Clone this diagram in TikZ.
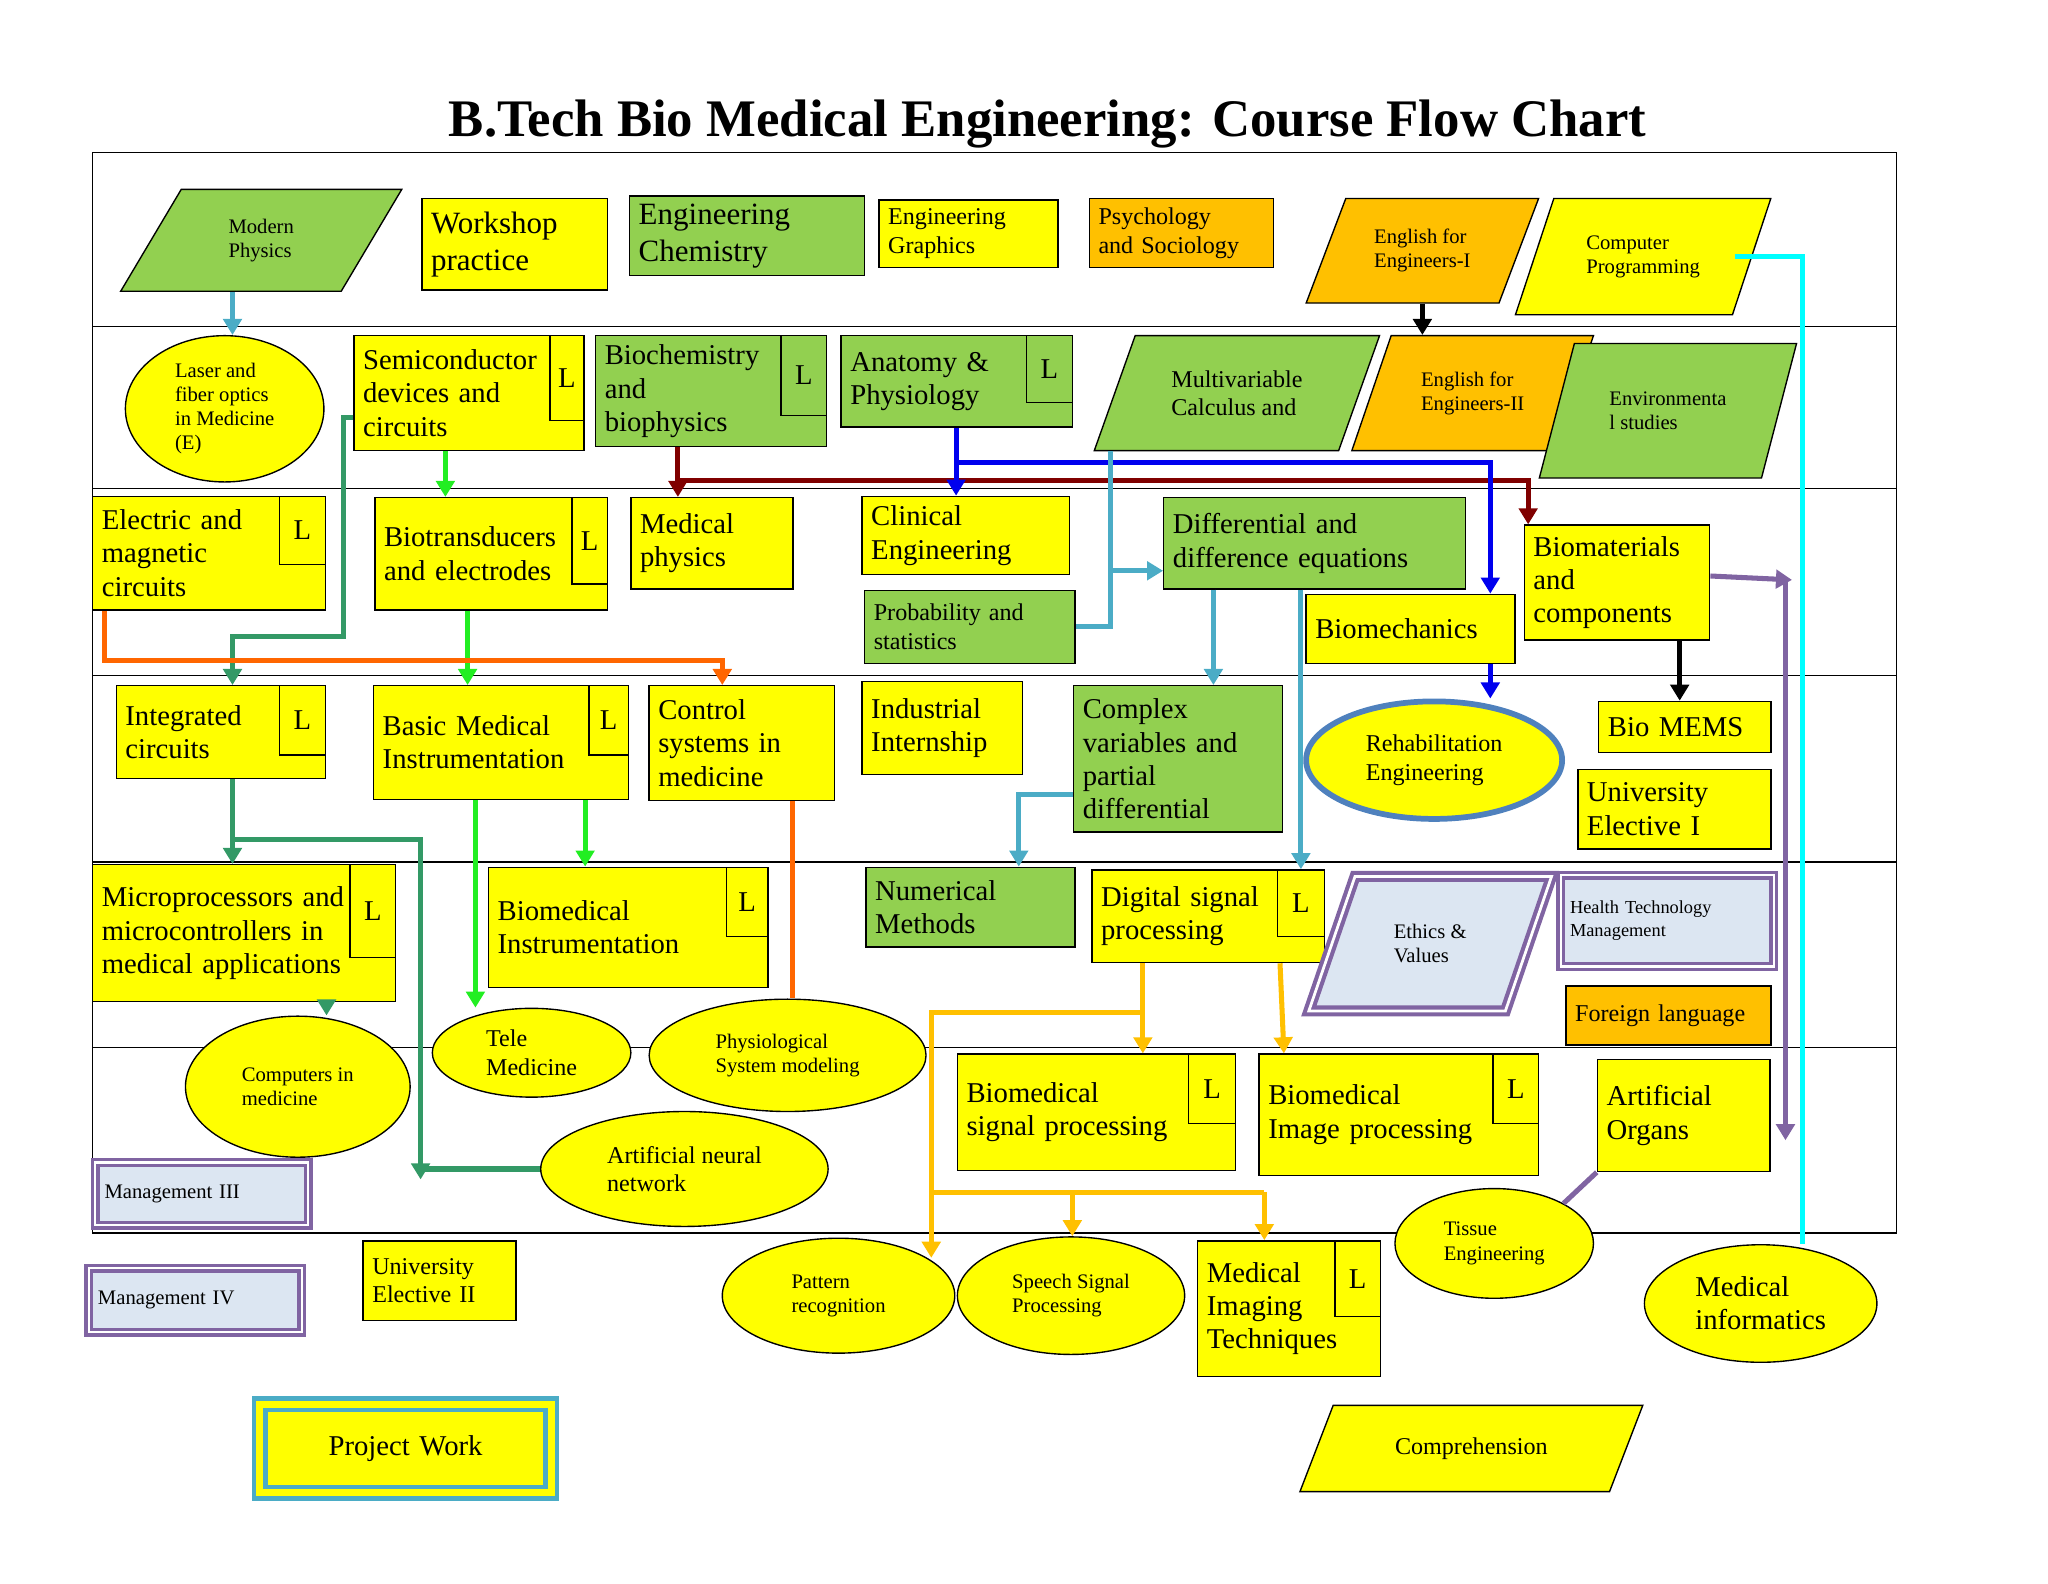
\documentclass[tikz,border=0pt]{standalone}
\usepackage{fontspec}
\setmainfont{Liberation Serif}
\usetikzlibrary{shapes.geometric,arrows.meta}
\definecolor{yel}{HTML}{FFFF00}
\definecolor{grn}{HTML}{92D050}
\definecolor{org}{HTML}{FFC000}
\definecolor{lbl}{HTML}{DCE6F2}
\definecolor{pur}{HTML}{8064A2}
\definecolor{sbl}{HTML}{4BACC6}
\definecolor{dgr}{HTML}{339966}
\definecolor{bgr}{HTML}{22EE22}
\definecolor{orr}{HTML}{FF6600}
\definecolor{drd}{HTML}{800000}
\definecolor{blu}{HTML}{0000EE}
\definecolor{gld}{HTML}{FFC000}
\definecolor{cyn}{HTML}{00FFFF}
\definecolor{rbl}{HTML}{4F81BD}
\newcommand\fW{\fontsize{13.5}{16}\selectfont}
\newcommand\fL{\fontsize{12.5}{14.5}\selectfont}
\newcommand\fM{\fontsize{10.5}{12.5}\selectfont}
\newcommand\fS{\fontsize{9}{10.5}\selectfont}
% boxes given by corners, in pixels of the page
\newcommand\cbox[7]{\node[#6, minimum width={(#4-#2)*0.02cm}, minimum height={(#5-#3)*0.02cm},
  text width={(#4-#2)*0.02cm-8pt}] (#1) at ({(#2+#4)/2},{(#3+#5)/2}) {#7};}
\newcommand\lbox[5]{\node[lb, minimum width={(#4-#2)*0.02cm}, minimum height={(#5-#3)*0.02cm}]
  (#1) at ({(#2+#4)/2},{(#3+#5)/2}) {L};}
\newcommand\cell[6]{\node[el, #5, minimum width={2*#3*0.02cm}, minimum height={2*#4*0.02cm}]
  (#1) at (#2) {#6};}
\newcommand\cpara[7]{\node[pa, #6, minimum width={(#4-#2)*0.02cm}, minimum height={(#5-#3)*0.02cm}]
  (#1) at ({(#2+#4)/2},{(#3+#5)/2}) {#7};}
\tikzset{
  bx/.style={draw=black, line width=0.6pt, align=left, inner xsep=4pt, inner ysep=2pt, font=\fL},
  yb/.style={bx, fill=yel}, gb/.style={bx, fill=grn}, ob/.style={bx, fill=org},
  mg/.style={bx, fill=lbl, draw=pur, line width=1.5pt, double=white, double distance=1pt},
  lb/.style={draw=black, line width=0.6pt, inner sep=0pt, font=\fL},
  el/.style={ellipse, draw=black, line width=0.6pt, fill=yel, align=left, inner sep=0pt, font=\fS},
  pa/.style={trapezium, trapezium left angle=60, trapezium right angle=120, trapezium stretches=true,
    draw=black, line width=0.6pt, align=left, inner sep=0pt, font=\fS},
  ar/.style={line width=2.2pt, -{Triangle[length=7pt,width=8pt]}},
  ln/.style={line width=2.2pt}
}
\begin{document}
\begin{tikzpicture}[x=0.02cm, y=-0.02cm]
  \useasboundingbox (0,0) rectangle (1568,1212);
  \node[font=\fontsize{23}{28}\selectfont\bfseries] (title) at (802,95) {B.Tech Bio Medical Engineering: Course Flow Chart};

  % frame and semester rows
  \draw[line width=0.6pt] (71,117) rectangle (1452,944);
  \foreach \r in {250,374,517,660,802}
    \draw[line width=0.6pt] (71,\r) -- (1452,\r);

  % row 1
  \cpara{modphys}{92}{145}{308}{223}{fill=grn}{Modern\\Physics}
  \cbox{work}{323}{152}{465}{222}{yb,font=\fW}{Workshop\\practice}
  \cbox{chem}{482}{150}{662}{211}{gb,font=\fW}{Engineering\\Chemistry}
  \cbox{graph}{673}{153}{810}{205}{yb,font=\fM}{Engineering\\Graphics}
  \cbox{psy}{834}{152}{975}{205}{ob,font=\fM}{Psychology\\and Sociology}
  \cpara{eng1}{1000}{152}{1178}{232}{fill=org}{English for\\Engineers-I}
  \cpara{comp}{1160}{152}{1356}{241}{fill=yel}{Computer\\Programming}

  % row 2
  \cell{laser}{172,313}{76}{56}{}{Laser and\\fiber optics\\in Medicine\\(E)}
  \cbox{semi}{271}{257}{447}{345}{yb}{Semiconductor\\devices and\\circuits}
  \lbox{semiL}{421}{257}{447}{322}
  \cbox{bioc}{456}{257}{633}{342}{gb}{Biochemistry\\and\\ biophysics}
  \lbox{biocL}{598}{257}{633}{318}
  \cbox{anat}{644}{257}{821}{327}{gb}{Anatomy \&\\Physiology}
  \lbox{anatL}{786}{257}{821}{308}
  \cpara{mvc}{837}{257}{1057}{345}{fill=grn,font=\fM}{Multivariable\\Calculus and}
  \cpara{eng2}{1035}{257}{1220}{345}{fill=org}{English for\\Engineers-II}
  \cpara{env}{1178}{263}{1376}{366}{fill=grn}{Environmenta\\l studies}

  % row 3
  \cbox{emc}{71}{380}{249}{467}{yb}{Electric and\\magnetic\\circuits}
  \lbox{emcL}{214}{380}{249}{432}
  \cbox{biot}{287}{381}{465}{467}{yb}{Biotransducers\\and electrodes}
  \lbox{biotL}{438}{381}{465}{447}
  \cbox{medph}{483}{381}{607}{451}{yb}{Medical\\physics}
  \cbox{clin}{660}{380}{819}{440}{yb}{Clinical\\Engineering}
  \cbox{diff}{891}{381}{1122}{451}{gb}{Differential and\\difference equations}
  \cbox{prob}{662}{452}{823}{508}{gb,font=\fM}{Probability and\\statistics}
  \cbox{biomech}{1000}{455}{1160}{508}{yb}{Biomechanics}
  \cbox{bmat}{1167}{402}{1309}{490}{yb}{Biomaterials\\and\\components}

  % row 4
  \cbox{ic}{89}{525}{249}{596}{yb}{Integrated\\circuits}
  \lbox{icL}{214}{525}{249}{578}
  \cbox{bmi}{286}{525}{481}{612}{yb}{Basic Medical\\Instrumentation}
  \lbox{bmiL}{451}{525}{481}{578}
  \cbox{ctl}{497}{525}{639}{613}{yb}{Control\\systems in\\medicine}
  \cbox{intern}{660}{522}{783}{593}{yb}{Industrial\\Internship}
  \cbox{cplx}{822}{525}{982}{637}{gb}{Complex\\variables and\\partial\\differential}
  \cell{rehab}{1098,582}{98}{45}{draw=rbl,line width=2.5pt,font=\fM}{Rehabilitation\\Engineering}
  \cbox{mems}{1224}{537}{1356}{576}{yb}{Bio MEMS}
  \cbox{ue1}{1208}{589}{1356}{650}{yb}{University\\Elective I}

  % row 5
  \cbox{mp}{71}{662}{303}{767}{yb}{Microprocessors and\\microcontrollers in\\medical applications}
  \lbox{mpL}{268}{662}{303}{733}
  \cbox{binst}{374}{664}{588}{756}{yb}{Biomedical\\Instrumentation}
  \lbox{binstL}{556}{664}{588}{717}
  \cbox{num}{663}{664}{823}{725}{gb}{Numerical\\Methods}
  \cbox{dsp}{836}{666}{1014}{737}{yb}{Digital signal\\processing}
  \lbox{dspL}{978}{666}{1014}{717}
  \cpara{ethics}{1002}{671}{1188}{774}{fill=lbl,draw=pur,line width=1.8pt,double=white,double distance=1.2pt}{Ethics \&\\Values}
  \cbox{htm}{1195}{670}{1358}{740}{mg,font=\fontsize{8}{10}\selectfont}{Health Technology\\Management}
  \cbox{flang}{1199}{755}{1356}{800}{ob,font=\fM}{Foreign language}

  % row 6
  \cell{cim}{228,832}{86}{54}{}{Computers in\\medicine}
  \cell{tele}{407,806}{76}{34}{font=\fM}{Tele\\Medicine}
  \cell{phys}{603,808}{106}{43}{}{Physiological\\System modeling}
  \cbox{bsp}{733}{807}{946}{896}{yb}{Biomedical\\ signal processing}
  \lbox{bspL}{910}{807}{946}{860}
  \cbox{bip}{964}{807}{1178}{900}{yb}{Biomedical\\Image processing}
  \lbox{bipL}{1143}{807}{1178}{860}
  \cbox{aorg}{1223}{811}{1355}{897}{yb}{Artificial\\Organs}
  \cell{ann}{524,895}{110}{44}{font=\fM}{Artificial neural\\network}
  \cbox{m3}{73}{890}{236}{938}{mg,font=\fS}{Management III}
  \cell{tissue}{1144,952}{76}{42}{}{Tissue\\Engineering}

  % final year
  \cbox{m4}{68}{971}{231}{1020}{mg,font=\fS}{Management IV}
  \cbox{ue2}{278}{950}{395}{1011}{yb,font=\fM}{University\\Elective II}
  \cell{patt}{642,992}{89}{44}{}{Pattern\\recognition}
  \cell{speech}{820,992}{87}{45}{}{Speech Signal\\Processing}
  \cbox{mit}{917}{950}{1057}{1054}{yb}{Medical\\Imaging\\Techniques}
  \lbox{mitL}{1022}{950}{1057}{1008}
  \cell{medinf}{1348,998}{89}{45}{font=\fL}{Medical\\informatics}
  \cbox{proj}{199}{1075}{422}{1143}{yb,draw=sbl,line width=2pt,double=yel,double distance=3pt,align=center}{Project Work}
  \cpara{compr}{995}{1076}{1258}{1142}{fill=yel,trapezium left angle=50,trapezium right angle=130,font=\fM}{Comprehension}

  % prerequisites
  \draw[ar,sbl] (modphys.south -| 178,0) -- (laser.north -| 178,0);
  \draw[ar,black] (eng1.south -| 1089,0) -- (eng2.north -| 1089,0);
  \draw[ln,cyn] (comp.east -| 1328,0) -| (medinf.north -| 1380,0);
  \draw[ar,dgr] (semi.west |- 0,320) -- (263,320) -- (263,487) -| (ic.north -| 178,0);
  \draw[ar,bgr] (semi.south -| 341,0) -- (biot.north -| 341,0);
  \draw[ar,bgr] (biot.south -| 358,0) -- (bmi.north -| 358,0);
  \draw[ar,orr] (emc.south -| 80,0) -- (80,506) -| (ctl.north -| 553,0);
  \draw[ar,drd] (bioc.south -| 519,0) -- (medph.north -| 519,0);
  \draw[ar,drd] (519,368) -| (bmat.north -| 1170,0);
  \draw[ar,blu] (anat.south -| 732,0) -- (clin.north -| 732,0);
  \draw[ar,blu] (732,354) -| (biomech.north -| 1141,0);
  \draw[ar,blu] (biomech.south -| 1141,0) -- (rehab.north -| 1141,0);
  \draw[ln,sbl] (mvc.south -| 850,0) |- (prob.east);
  \draw[ar,sbl] (850,437) -- (diff.west |- 0,437);
  \draw[ar,sbl] (diff.south -| 929,0) -- (cplx.north -| 929,0);
  \draw[ar,sbl] (diff.south -| 996,0) -- (dsp.north -| 996,0);
  \draw[ar,sbl] (cplx.west |- 0,608) -| (num.north -| 780,0);
  \draw[ar,black] (bmat.south -| 1286,0) -- (mems.north -| 1286,0);
  \draw[ar,pur] (bmat.east |- 0,441) -- (1372,444);
  \draw[ar,pur] (1367,444) -- (aorg.east -| 1367,0) -- (1367,873);
  \draw[ln,pur] (tissue.30) -- (aorg.south west);
  \draw[ar,dgr] (ic.south -| 178,0) -- (mp.north -| 178,0);
  \draw[ar,dgr] (178,643) -| (322,903);
  \draw[ln,dgr] (ann.west) -- (ann.west -| 322,0);
  \draw[ar,dgr] (mp.south -| 250,0) -- (cim.north -| 250,0);
  \draw[ar,bgr] (bmi.south -| 364,0) -- (tele.north -| 364,0);
  \draw[ar,bgr] (bmi.south -| 448,0) -- (binst.north -| 448,0);
  \draw[ln,orr] (ctl.south -| 607,0) -- (phys.north -| 607,0);
  \draw[ar,gld] (dsp.south -| 875,0) -- (bsp.north -| 875,0);
  \draw[ar,gld] (875,775) -- (713,775) -- (713,963);
  \draw[ln,gld] (713,913) -- (968,913);
  \draw[ar,gld] (968,913) -- (mit.north -| 968,0);
  \draw[ar,gld] (821,913) -- (speech.north -| 821,0);
  \draw[ar,gld] (dsp.south -| 980,0) -- (bip.north -| 983,0);
\end{tikzpicture}
\end{document}
